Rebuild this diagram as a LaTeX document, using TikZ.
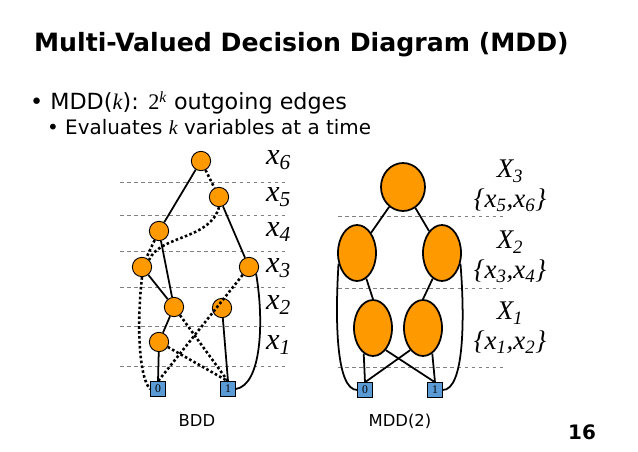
\documentclass[tikz,border=0pt]{standalone}
\usepackage{fontspec}
\setmainfont{DejaVu Sans}
\newfontfamily\tms{Liberation Serif}
\usetikzlibrary{shapes.geometric}
\begin{document}
\begin{tikzpicture}[x=0.03cm,y=-0.03cm,
  lev/.style={draw=gray,dashed,thin},
  sol/.style={draw,line width=1.5pt},
  dot/.style={draw,line width=2.2pt,dotted},
  lab/.style={font=\tms\itshape\fontsize{26}{26}\selectfont,anchor=west},
  mlab/.style={font=\tms\itshape\fontsize{23}{25}\selectfont,align=center}]
\useasboundingbox (0,0) rectangle (638,452);
\tikzset{bnode/.style={circle,draw,thick,fill={rgb,255:red,255;green,153;blue,0},inner sep=0pt,minimum size=0.58cm},
 term/.style={draw,fill={rgb,255:red,91;green,155;blue,213},minimum size=0.45cm,inner sep=0pt,font=\tms\fontsize{10}{10}\selectfont},
 mnode/.style={ellipse,draw,line width=1.5pt,fill={rgb,255:red,255;green,153;blue,0},inner sep=0pt}}
\node[anchor=west,font=\bfseries\fontsize{21.5}{21.5}\selectfont] (title) at (30,45) {Multi-Valued Decision Diagram (MDD)};
\node[anchor=west,font=\fontsize{19}{19}\selectfont] (b1) at (26,103) {• MDD(\textit{\tms k}): {\tms 2\textsuperscript{\itshape k}} outgoing edges};
\node[anchor=west,font=\fontsize{17}{17}\selectfont] (b2) at (43,127) {• Evaluates {\tms\itshape k} variables at a time};
% BDD levels
\foreach \y in {182,215,251,287,326,366} \draw[lev] (120,\y) -- (287,\y);
\foreach \i/\y in {6/160,5/197,4/232,3/268,2/305,1/345} \node[lab] (l\i) at (262,\y) {x\textsubscript{\i}};
\node[bnode] (a6) at (201,161) {};
\node[bnode] (a5) at (219,197) {};
\node[bnode] (a4) at (159,231) {};
\node[bnode] (a3) at (142,267) {};
\node[bnode] (b3) at (249,267) {};
\node[bnode] (a2) at (174,307) {};
\node[bnode] (b2n) at (222,308) {};
\node[bnode] (a1) at (159,342) {};
\node[term] (t0) at (158,389) {0};
\node[term] (t1) at (228,389) {1};
\draw[sol] (a6) -- (a4);
\draw[dot] (a6) -- (a5);
\draw[sol] (a5) -- (b3);
\draw[dot] (a5.south) .. controls (210,240) and (160,235) .. (a3.north east);
\draw[sol] (a4) -- (a2);
\draw[dot] (a4) -- (a3);
\draw[sol] (a3) -- (a2);
\draw[dot] (a3.south) .. controls (136,330) and (140,380) .. (t0.west);
\draw[sol] (b3.south east) .. controls (264,320) and (262,385) .. (t1.east);
\draw[dot] (b3) -- (t0.north);
\draw[sol] (a2) -- (a1);
\draw[dot] (a2) -- (t1.north);
\draw[sol] (b2n) -- (t1.north);
\draw[sol] (a1) -- (t0.north);
\draw[dot] (a1) -- (t1.north);
\node[font=\fontsize{14}{14}\selectfont] (bddl) at (197,421) {BDD};
% MDD
\foreach \y in {216,288,367} \draw[lev] (338,\y) -- (503,\y);
\node[mlab] (m3) at (510,186) {X\textsubscript{3}\\\{x\textsubscript{5},x\textsubscript{6}\}};
\node[mlab] (m2) at (510,257) {X\textsubscript{2}\\\{x\textsubscript{3},x\textsubscript{4}\}};
\node[mlab] (m1) at (510,328) {X\textsubscript{1}\\\{x\textsubscript{1},x\textsubscript{2}\}};
\node[mnode,minimum width=1.32cm,minimum height=1.44cm] (c3) at (403,187) {};
\node[mnode,minimum width=1.14cm,minimum height=1.68cm] (c2l) at (357,253) {};
\node[mnode,minimum width=1.14cm,minimum height=1.68cm] (c2r) at (442,253) {};
\node[mnode,minimum width=1.14cm,minimum height=1.68cm] (c1l) at (373,328) {};
\node[mnode,minimum width=1.14cm,minimum height=1.68cm] (c1r) at (423,328) {};
\node[term] (u0) at (365,390) {0};
\node[term] (u1) at (435,390) {1};
\draw[sol] (c3) -- (c2l);
\draw[sol] (c3) -- (c2r);
\draw[sol] (c2l.-70) -- (c1l.north);
\draw[sol] (c2r.-110) -- (c1r.north);
\draw[sol] (c2l.-150) .. controls (335,320) and (336,390) .. (u0.west);
\draw[sol] (c2r.-30) .. controls (465,320) and (464,390) .. (u1.east);
\draw[sol] (c1l.-110) -- (u0.north);
\draw[sol] (c1l.-60) -- (u1.north);
\draw[sol] (c1r.-120) -- (u0.north);
\draw[sol] (c1r.-70) -- (u1.north);
\node[font=\fontsize{14}{14}\selectfont] (mddl) at (400,421) {MDD(2)};
\node[font=\bfseries\fontsize{17}{17}\selectfont] (pg) at (582,432) {16};
\end{tikzpicture}
\end{document}
